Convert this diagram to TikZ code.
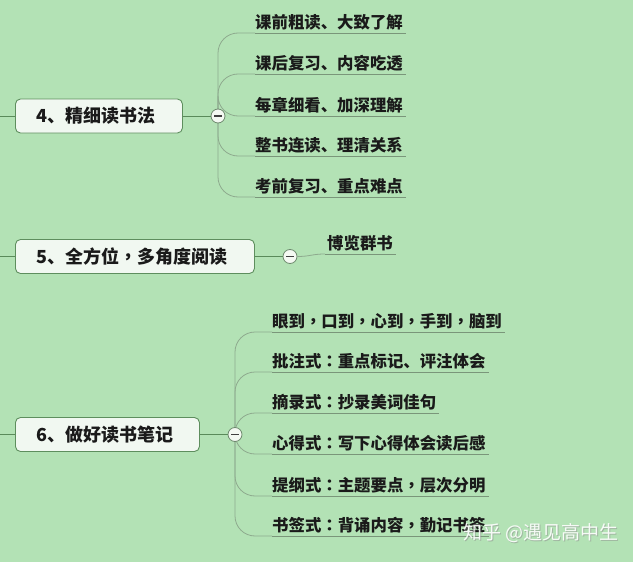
\documentclass[tikz,border=0pt]{standalone}
\usepackage{fontspec}
\newfontfamily\cjk{Noto Sans CJK SC}
\newfontfamily\cjktc{Noto Sans CJK TC}
\newcommand\cmz{{\cjktc ，}}
\newcommand\clz{{\cjktc ：}}
\definecolor{bgc}{HTML}{B3E2B5}
\definecolor{boxfill}{HTML}{F1F8F1}
\definecolor{boxline}{HTML}{5E8E5E}
\definecolor{linkc}{HTML}{5A8A5A}
\definecolor{circfill}{HTML}{F4F9F2}
\definecolor{circline}{HTML}{6E8A6E}
\definecolor{curvec}{HTML}{8EAA8E}
\definecolor{ulinec}{HTML}{7A967A}
\definecolor{txt}{HTML}{1A1A1A}
\tikzset{
  mainbox/.style={draw=boxline, fill=boxfill, line width=0.9pt, rounded corners=5pt,
    anchor=west, minimum height=34pt, inner xsep=21pt, inner ysep=0pt, align=left,
    text=txt, font=\cjk\bfseries\fontsize{18}{20}\selectfont},
  childtxt/.style={anchor=base west, inner sep=0pt, text=txt,
    font=\cjk\bfseries\fontsize{16.4}{18}\selectfont},
  toggle/.style={circle, draw=circline, fill=circfill, line width=0.8pt, minimum size=14pt, inner sep=0pt},
  linkline/.style={draw=linkc, line width=0.9pt},
  curveline/.style={draw=curvec, line width=0.8pt, rounded corners=20pt},
  uline/.style={draw=ulinec, line width=0.8pt},
  minusbar/.style={draw=black!75, line width=1.4pt},
  wmark/.style={anchor=west, inner sep=0pt, font=\cjk\fontsize{19}{21}\selectfont}
}
\begin{document}
\begin{tikzpicture}[x=1pt,y=-1pt]
\fill[bgc] (0,0) rectangle (633,562);
\useasboundingbox (0,0) rectangle (633,562);

% ---------- Section 4 ----------
\coordinate (l4) at (0,116);
\coordinate (tc4) at (218,116);
\node[mainbox, text width=125pt] (b4) at (15,116) {4、精细读书法};
\foreach \n/\y/\t in {1/33/课前粗读、大致了解, 2/74/课后复习、内容吃透, 3/116/每章细看、加深理解, 4/156/整书连读、理清关系, 5/197/考前复习、重点难点}{
  \coordinate (u4\n) at (255,\y);
  \node[childtxt] (c4\n) at (255,\y-4.5) {\t};
  \draw[curveline] (tc4) |- (u4\n);
  \draw[uline] (u4\n) -- ([xshift=3pt]u4\n -| c4\n.east);
}
\node[toggle] (t4) at (tc4) {};
\draw[minusbar] ([xshift=-4pt]t4.center) -- ([xshift=4pt]t4.center);
\draw[linkline] (l4) -- (b4.west);
\draw[linkline] (b4.east) -- (t4.west);

% ---------- Section 5 ----------
\coordinate (l5) at (0,256.5);
\node[mainbox, text width=197pt] (b5) at (15,256.5) {5、全方位\cmz 多角度阅读};
\node[toggle] (t5) at (290,256.5) {};
\draw[minusbar] ([xshift=-4pt]t5.center) -- ([xshift=4pt]t5.center);
\draw[linkline] (l5) -- (b5.west);
\draw[linkline] (b5.east) -- (t5.west);
\coordinate (u51) at (325,254);
\node[childtxt] (c51) at (327,249.5) {博览群书};
\draw[draw=curvec, line width=0.8pt] (t5.east) .. controls (310,256.5) and (312,254) .. (u51);
\draw[uline] (u51) -- ([xshift=3pt]u51 -| c51.east);

% ---------- Section 6 ----------
\coordinate (l6) at (0,434.5);
\coordinate (tc6) at (235,434.5);
\node[mainbox, text width=142pt] (b6) at (15,434.5) {6、做好读书笔记};
\foreach \n/\y/\t in {1/332/眼到\cmz 口到\cmz 心到\cmz 手到\cmz 脑到, 2/372/批注式\clz 重点标记、评注体会, 3/413/摘录式\clz 抄录美词佳句, 4/454/心得式\clz 写下心得体会读后感, 5/496/提纲式\clz 主题要点\cmz 层次分明, 6/536/书签式\clz 背诵内容\cmz 勤记书签}{
  \coordinate (u6\n) at (272,\y);
  \node[childtxt] (c6\n) at (272,\y-4.5) {\t};
  \draw[curveline] (tc6) |- (u6\n);
  \draw[uline] (u6\n) -- ([xshift=3pt]u6\n -| c6\n.east);
}
\node[toggle] (t6) at (tc6) {};
\draw[minusbar] ([xshift=-4pt]t6.center) -- ([xshift=4pt]t6.center);
\draw[linkline] (l6) -- (b6.west);
\draw[linkline] (b6.east) -- (t6.west);

% ---------- watermark ----------
\node[wmark, text=black!45, opacity=0.5] (wms) at (464,534) {知乎 @遇见高中生};
\node[wmark, text=white, opacity=0.9] (wm) at (463,533) {知乎 @遇见高中生};
\end{tikzpicture}
\end{document}
